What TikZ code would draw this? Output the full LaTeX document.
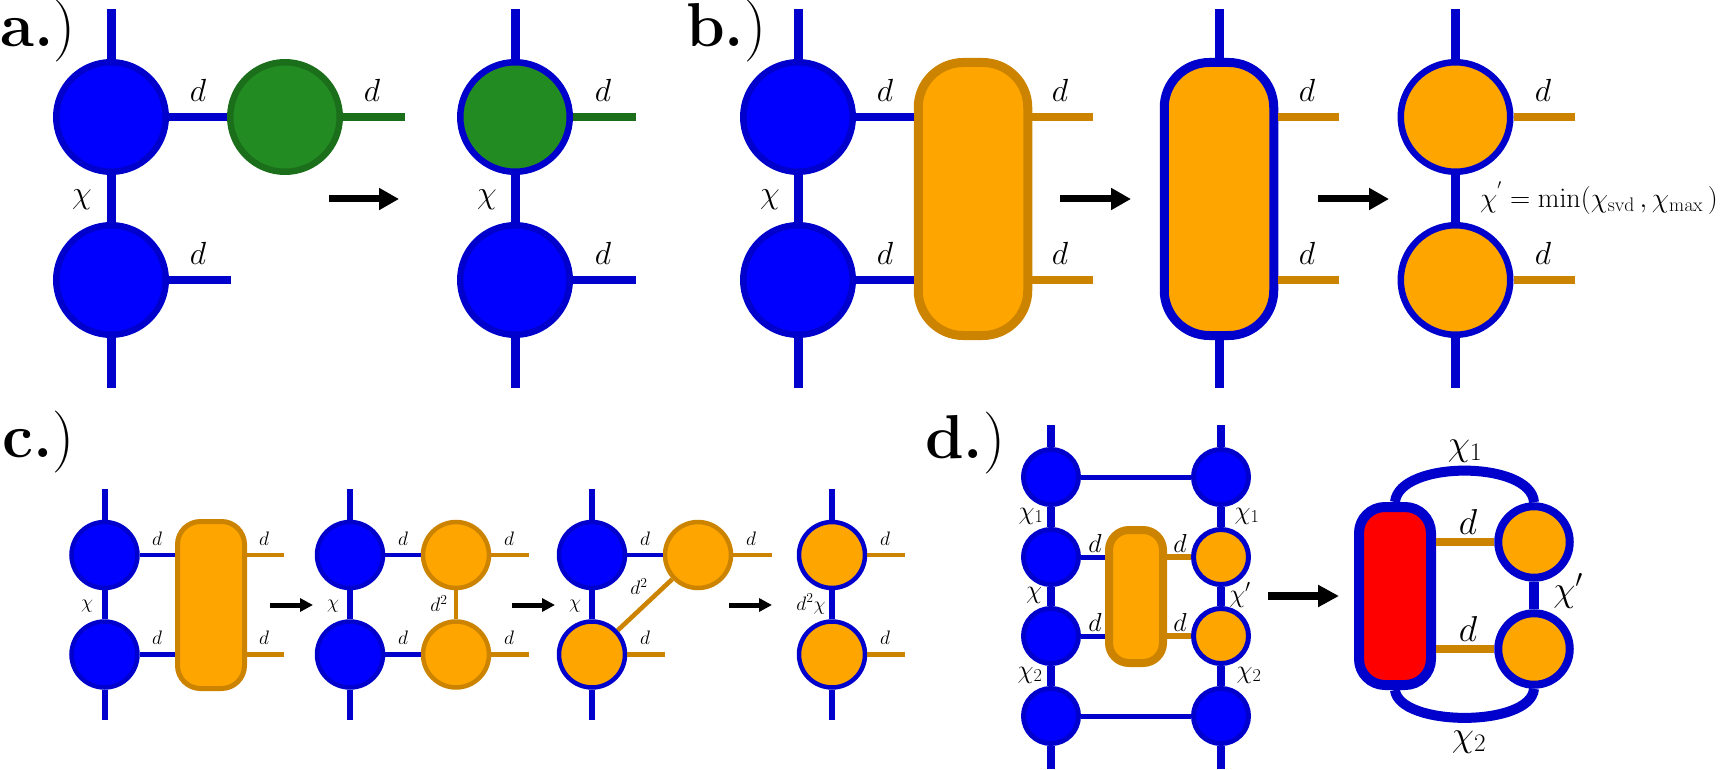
\RequirePackage{fix-cm}
\documentclass[tikz,border=0pt]{standalone}
\usetikzlibrary{arrows.meta}
\definecolor{bfill}{HTML}{0000FF}
\definecolor{bline}{HTML}{0000CC}
\definecolor{gfill}{HTML}{228B22}
\definecolor{gline}{HTML}{1B6F1B}
\definecolor{ofill}{HTML}{FFA500}
\definecolor{oline}{HTML}{CC8400}
\tikzset{
  x=1pt,y=-1pt,
  ball/.style={circle,draw,inner sep=0pt},
  szA/.style={ball,line width=6.5pt,minimum size=109.5pt},
  szC/.style={ball,line width=4.5pt,minimum size=66pt},
  szD/.style={ball,line width=5pt,minimum size=55pt},
  szE/.style={ball,line width=8pt,minimum size=71.5pt},
  bb/.style={fill=bfill,draw=bline},
  ob/.style={fill=ofill,draw=bline},
  oo/.style={fill=ofill,draw=oline},
  gg/.style={fill=gfill,draw=gline},
  gb/.style={fill=gfill,draw=bline},
  tall/.style={rectangle,draw,inner sep=0pt},
  boxB/.style={tall,line width=9pt,minimum width=109.5pt,minimum height=273pt,rounded corners=45pt},
  boxC/.style={tall,line width=5pt,minimum width=67pt,minimum height=167pt,rounded corners=23pt},
  boxD/.style={tall,line width=8pt,minimum width=54pt,minimum height=133pt,rounded corners=20pt},
  boxE/.style={tall,line width=10pt,minimum width=72pt,minimum height=178pt,rounded corners=26pt},
  vA/.style={draw=bline,line width=9pt},
  hA/.style={line width=7.3pt},
  vC/.style={draw=bline,line width=6pt},
  hC/.style={line width=4.6pt},
  vD/.style={draw=bline,line width=8pt},
  hD/.style={line width=5pt},
  arrA/.style={line width=7pt,-{Triangle[length=20pt,width=21pt]}},
  arrC/.style={line width=5pt,-{Triangle[length=13pt,width=13pt]}},
  arrD/.style={line width=7.5pt,-{Triangle[length=21pt,width=21pt]}},
  txA/.style={inner sep=0pt,font=\fontsize{32}{34}\selectfont},
  txC/.style={inner sep=0pt,font=\fontsize{19.5}{21}\selectfont},
  txD/.style={inner sep=0pt,font=\fontsize{26}{28}\selectfont},
  txE/.style={inner sep=0pt,font=\fontsize{36}{38}\selectfont},
  panel/.style={inner sep=0pt,anchor=base west,font=\fontsize{62}{64}\selectfont},
}
\begin{document}
\begin{tikzpicture}
\useasboundingbox (0,0) rectangle (1725,770);
% panel labels
\node[panel] (pa) at (0,47) {\textbf{a.}{)}};
\node[panel] (pb) at (686,47) {\textbf{b.}{)}};
\node[panel] (pc) at (2,457) {\textbf{c.}{)}};
\node[panel] (pd) at (925,458) {\textbf{d.}{)}};
% ---------- panel a
\node[szA,bb] (a1) at (111,117) {};
\node[szA,bb] (a2) at (111,280) {};
\node[szA,gg] (a3) at (285,117) {};
\node[szA,gb] (a4) at (515,117) {};
\node[szA,bb] (a5) at (515,280) {};
\coordinate (a1t) at (111,9); \coordinate (a2b) at (111,388);
\coordinate (a3e) at (405,117); \coordinate (a2e) at (231,280);
\coordinate (a4t) at (515,9); \coordinate (a5b) at (515,388);
\coordinate (a4e) at (636,117); \coordinate (a5e) at (636,280);
\coordinate (aas) at (329,199); \coordinate (aae) at (399,199);
\draw[vA] (a1t) -- (a1);
\draw[vA] (a1) -- (a2);
\draw[vA] (a2) -- (a2b);
\draw[hA,draw=bline] (a1) -- (a3);
\draw[hA,draw=gline] (a3) -- (a3e);
\draw[hA,draw=bline] (a2) -- (a2e);
\draw[vA] (a4t) -- (a4);
\draw[vA] (a4) -- (a5);
\draw[vA] (a5) -- (a5b);
\draw[hA,draw=gline] (a4) -- (a4e);
\draw[hA,draw=bline] (a5) -- (a5e);
\draw[arrA] (aas) -- (aae);
\node[txA] (la1) at (198,90) {$d$};
\node[txA] (la2) at (372,90) {$d$};
\node[txA] (la3) at (198,253) {$d$};
\node[txA] (la4) at (82,200) {$\chi$};
\node[txA] (la5) at (603,90) {$d$};
\node[txA] (la6) at (603,253) {$d$};
\node[txA] (la7) at (487,200) {$\chi$};
% ---------- panel b
\node[szA,bb] (b1) at (798,117) {};
\node[szA,bb] (b2) at (798,280) {};
\node[boxB,fill=ofill,draw=oline] (b3) at (973,199) {};
\node[boxB,fill=ofill,draw=bline] (b4) at (1219,199) {};
\node[szA,ob] (b5) at (1455.5,117) {};
\node[szA,ob] (b6) at (1455.5,280) {};
\coordinate (b1t) at (798,9); \coordinate (b2b) at (798,388);
\coordinate (b3e1) at (1093,117); \coordinate (b3e2) at (1093,280);
\coordinate (b4t) at (1219,9); \coordinate (b4b) at (1219,388);
\coordinate (b4e1) at (1339,117); \coordinate (b4e2) at (1339,280);
\coordinate (b5t) at (1455.5,9); \coordinate (b6b) at (1455.5,388);
\coordinate (b5e) at (1575,117); \coordinate (b6e) at (1575,280);
\coordinate (bas1) at (1060,199); \coordinate (bae1) at (1131,199);
\coordinate (bas2) at (1318,199); \coordinate (bae2) at (1389,199);
\draw[vA] (b1t) -- (b1);
\draw[vA] (b1) -- (b2);
\draw[vA] (b2) -- (b2b);
\draw[hA,draw=bline] (b1) -- (b1 -| b3.west);
\draw[hA,draw=bline] (b2) -- (b2 -| b3.west);
\draw[hA,draw=oline] (b3.east |- b1) -- (b3e1);
\draw[hA,draw=oline] (b3.east |- b2) -- (b3e2);
\draw[vA] (b4t) -- (b4);
\draw[vA] (b4) -- (b4b);
\draw[hA,draw=oline] (b4.east |- b1) -- (b4e1);
\draw[hA,draw=oline] (b4.east |- b2) -- (b4e2);
\draw[vA] (b5t) -- (b5);
\draw[vA] (b5) -- (b6);
\draw[vA] (b6) -- (b6b);
\draw[hA,draw=oline] (b5) -- (b5e);
\draw[hA,draw=oline] (b6) -- (b6e);
\draw[arrA] (bas1) -- (bae1);
\draw[arrA] (bas2) -- (bae2);
\node[txA] (lb1) at (885,90) {$d$};
\node[txA] (lb2) at (1060,90) {$d$};
\node[txA] (lb3) at (1307,90) {$d$};
\node[txA] (lb4) at (1543,90) {$d$};
\node[txA] (lb5) at (885,253) {$d$};
\node[txA] (lb6) at (1060,253) {$d$};
\node[txA] (lb7) at (1307,253) {$d$};
\node[txA] (lb8) at (1543,253) {$d$};
\node[txA] (lb9) at (770,200) {$\chi$};
\node[txA,anchor=west,font=\fontsize{28}{30}\selectfont] (lb10) at (1480,198) {$\chi^{'}=\mathrm{min}(\chi_{\mathrm{svd}}\,,\chi_{\mathrm{max}}\,)$};
% ---------- panel c
\node[szC,bb] (c1) at (104.5,555) {};
\node[szC,bb] (c2) at (104.5,654.5) {};
\node[boxC,fill=ofill,draw=oline] (c3) at (211,605) {};
\node[szC,bb] (c4) at (350,555) {};
\node[szC,bb] (c5) at (350,654.5) {};
\node[szC,oo] (c6) at (456,555) {};
\node[szC,oo] (c7) at (456,654.5) {};
\node[szC,bb] (c8) at (592,555) {};
\node[szC,ob] (c9) at (592,654.5) {};
\node[szC,oo] (c10) at (698,555) {};
\node[szC,ob] (c11) at (832,555) {};
\node[szC,ob] (c12) at (832,654.5) {};
\coordinate (c1t) at (104.5,489); \coordinate (c2b) at (104.5,720);
\coordinate (c3e1) at (284,555); \coordinate (c3e2) at (284,654.5);
\coordinate (c4t) at (350,489); \coordinate (c5b) at (350,720);
\coordinate (c6e) at (529,555); \coordinate (c7e) at (529,654.5);
\coordinate (c8t) at (592,489); \coordinate (c9b) at (592,720);
\coordinate (c10e) at (772,555); \coordinate (c9e) at (665,654.5);
\coordinate (c11t) at (832,489); \coordinate (c12b) at (832,720);
\coordinate (c11e) at (905,555); \coordinate (c12e) at (905,654.5);
\coordinate (cas1) at (270,605); \coordinate (cae1) at (313,605);
\coordinate (cas2) at (512,605); \coordinate (cae2) at (555,605);
\coordinate (cas3) at (729,605); \coordinate (cae3) at (772,605);
\draw[vC] (c1t) -- (c1);
\draw[vC] (c1) -- (c2);
\draw[vC] (c2) -- (c2b);
\draw[hC,draw=bline] (c1) -- (c1 -| c3.west);
\draw[hC,draw=bline] (c2) -- (c2 -| c3.west);
\draw[hC,draw=oline] (c3.east |- c1) -- (c3e1);
\draw[hC,draw=oline] (c3.east |- c2) -- (c3e2);
\draw[vC] (c4t) -- (c4);
\draw[vC] (c4) -- (c5);
\draw[vC] (c5) -- (c5b);
\draw[hC,draw=bline] (c4) -- (c6);
\draw[hC,draw=bline] (c5) -- (c7);
\draw[hC,draw=oline] (c6) -- (c7);
\draw[hC,draw=oline] (c6) -- (c6e);
\draw[hC,draw=oline] (c7) -- (c7e);
\draw[vC] (c8t) -- (c8);
\draw[vC] (c8) -- (c9);
\draw[vC] (c9) -- (c9b);
\draw[hC,draw=bline] (c8) -- (c10);
\draw[hC,draw=oline] (c9) -- (c10);
\draw[hC,draw=oline] (c10) -- (c10e);
\draw[hC,draw=oline] (c9) -- (c9e);
\draw[vC] (c11t) -- (c11);
\draw[vC] (c11) -- (c12);
\draw[vC] (c12) -- (c12b);
\draw[hC,draw=oline] (c11) -- (c11e);
\draw[hC,draw=oline] (c12) -- (c12e);
\draw[arrC] (cas1) -- (cae1);
\draw[arrC] (cas2) -- (cae2);
\draw[arrC] (cas3) -- (cae3);
\node[txC] (lc1) at (157,539) {$d$};
\node[txC] (lc2) at (264,539) {$d$};
\node[txC] (lc3) at (157,638) {$d$};
\node[txC] (lc4) at (264,638) {$d$};
\node[txC] (lc5) at (87,606) {$\chi$};
\node[txC] (lc6) at (403,539) {$d$};
\node[txC] (lc7) at (509,539) {$d$};
\node[txC] (lc8) at (403,638) {$d$};
\node[txC] (lc9) at (509,638) {$d$};
\node[txC] (lc10) at (333,606) {$\chi$};
\node[txC] (lc11) at (439,604) {$d^2$};
\node[txC] (lc12) at (575,606) {$\chi$};
\node[txC] (lc13) at (645,539) {$d$};
\node[txC] (lc14) at (751,539) {$d$};
\node[txC] (lc15) at (645,638) {$d$};
\node[txC] (lc16) at (639,587) {$d^2$};
\node[txC] (lc17) at (885,539) {$d$};
\node[txC] (lc18) at (885,638) {$d$};
\node[txC] (lc19) at (811,604) {$d^2\chi$};
% ---------- panel d
\node[szD,bb] (d1) at (1051,477) {};
\node[szD,bb] (d2) at (1051,557) {};
\node[szD,bb] (d3) at (1051,636) {};
\node[szD,bb] (d4) at (1051,716) {};
\node[szD,bb] (d5) at (1221,477) {};
\node[szD,ob] (d6) at (1221,557) {};
\node[szD,ob] (d7) at (1221,636) {};
\node[szD,bb] (d8) at (1221,716) {};
\node[boxD,fill=ofill,draw=oline] (d9) at (1136,596.5) {};
\node[boxE,fill=red,draw=bline] (e1) at (1395,596) {};
\node[szE,ob] (e2) at (1534,542) {};
\node[szE,ob] (e3) at (1534,649) {};
\coordinate (d1t) at (1051,425); \coordinate (d4b) at (1051,769);
\coordinate (d5t) at (1221,425); \coordinate (d8b) at (1221,769);
\coordinate (das) at (1268,596); \coordinate (dae) at (1339,596);
\draw[vD] (d1t) -- (d1);
\draw[vD] (d1) -- (d2);
\draw[vD] (d2) -- (d3);
\draw[vD] (d3) -- (d4);
\draw[vD] (d4) -- (d4b);
\draw[vD] (d5t) -- (d5);
\draw[vD] (d5) -- (d6);
\draw[vD] (d6) -- (d7);
\draw[vD] (d7) -- (d8);
\draw[vD] (d8) -- (d8b);
\draw[hD,draw=bline] (d1) -- (d5);
\draw[hD,draw=bline] (d4) -- (d8);
\draw[hD,draw=bline] (d2) -- (d2 -| d9.west);
\draw[hD,draw=bline] (d3) -- (d3 -| d9.west);
\draw[hD,line width=5.5pt,draw=oline] (d9.east |- d2) -- (d6);
\draw[hD,line width=5.5pt,draw=oline] (d9.east |- d3) -- (d7);
\draw[arrD] (das) -- (dae);
\draw[line width=7.5pt,draw=oline] (e1.east |- e2) -- (e2);
\draw[line width=7.5pt,draw=oline] (e1.east |- e3) -- (e3);
\draw[line width=10pt,draw=bline] (e2) -- (e3);
\draw[line width=10pt,draw=bline] (e1.north) .. controls +(4,-42) and +(-3,-42) .. (e2.north);
\draw[line width=10pt,draw=bline] (e1.south) .. controls +(4,37) and +(-3,39) .. (e3.south);
\node[txD] (ld1) at (1095,543) {$d$};
\node[txD] (ld2) at (1180,543) {$d$};
\node[txD] (ld3) at (1095,622) {$d$};
\node[txD] (ld4) at (1180,622) {$d$};
\node[txD] (ld5) at (1031,516) {$\chi_1$};
\node[txD] (ld6) at (1034,595) {$\chi$};
\node[txD] (ld7) at (1030,675) {$\chi_2$};
\node[txD] (ld8) at (1247,516) {$\chi_1$};
\node[txD] (ld9) at (1240,595) {$\chi'$};
\node[txD] (ld10) at (1249,675) {$\chi_2$};
\node[txE] (le1) at (1468,522) {$d$};
\node[txE] (le2) at (1468,629) {$d$};
\node[txE] (le3) at (1465,451) {$\chi_1$};
\node[txE] (le4) at (1469,742) {$\chi_2$};
\node[txE] (le5) at (1568,591) {$\chi'$};
\end{tikzpicture}
\end{document}
